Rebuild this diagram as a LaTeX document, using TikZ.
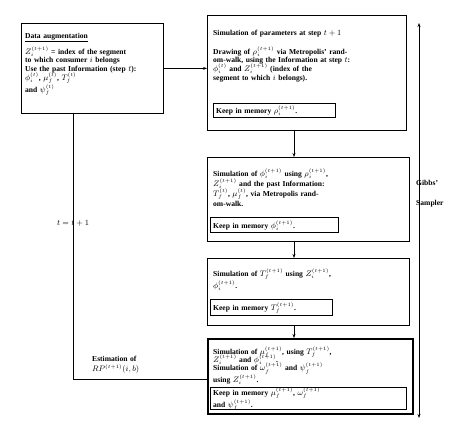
\documentclass[tikz,border=0pt]{standalone}
\usepackage{fontspec}
\setmainfont{Liberation Serif}
\usetikzlibrary{arrows.meta}
\newcommand{\topstrut}{\lineskiplimit=-100pt\relax\lineskip=0pt\relax\rule{0pt}{9bp}}
\newcommand{\boxfont}[1]{\fontsize{7.6}{#1}\selectfont\bfseries}
\begin{document}
\begin{tikzpicture}[x=1bp,y=-1bp,
  txt/.style={font=\boxfont{8.8},
              inner sep=0, anchor=north west, align=left, text width=220bp},
  box/.style={draw, line width=0.8bp, inner sep=0, anchor=north west},
  arr/.style={-{Stealth[length=4bp,width=3bp]}, line width=0.6bp}]
\useasboundingbox (0,0) rectangle (474,439);

% main boxes
\node[box, minimum width=142bp, minimum height=90bp] (da) at (21,23) {};
\node[box, minimum width=199bp, minimum height=115bp] (b2) at (207,15) {};
\node[box, minimum width=202bp, minimum height=84bp] (b3) at (207,157) {};
\node[box, minimum width=202bp, minimum height=67bp] (b4) at (207,258) {};
\node[box, line width=1.6bp, minimum width=205bp, minimum height=75bp] (b5) at (207,338) {};

% keep boxes
\node[box, minimum width=122bp, minimum height=14bp] (k2) at (213,103) {};
\node[box, minimum width=128bp, minimum height=15bp] (k3) at (210,217) {};
\node[box, minimum width=122bp, minimum height=16bp] (k4) at (210,299) {};
\node[box, line width=1.2bp, minimum width=196bp, minimum height=22bp] (k5) at (210,387) {};

% texts: data augmentation
\node[txt] (dat) at (25,29) {\topstrut\underline{Data augmentation}};
\node[txt] (dab) at (25,45) {\topstrut$Z_i^{(t+1)}$ = index of the segment\\
to which consumer $i$ belongs\\
Use the past Information (step $t$):\\
$\phi_i^{(t)}$, $\mu_f^{(t)}$, $T_f^{(t)}$\\
and $\psi_f^{(t)}$};

% box 2
\node[txt] (b2t) at (213,26) {\topstrut Simulation of parameters at step $t+1$};
\node[txt] (b2b) at (213,45) {\topstrut Drawing of $\rho_i^{(t+1)}$ via Metropolis' rand-\\
om-walk, using the Information at step $t$:\\
$\phi_i^{(t)}$ and $Z_i^{(t+1)}$ (index of the\\
segment to which $i$ belongs).};
\node[txt] (k2t) at (216,104) {\topstrut Keep in memory $\rho_i^{(t+1)}$.};

% box 3
\node[txt, font=\boxfont{10}] (b3b) at (213,167) {\topstrut Simulation of $\phi_i^{(t+1)}$ using $\rho_i^{(t+1)}$,\\
$Z_i^{(t+1)}$ and the past Information:\\
$T_f^{(t)}$, $\mu_f^{(t)}$, via Metropolis rand-\\
om-walk.};
\node[txt] (k3t) at (213,219) {\topstrut Keep in memory $\phi_i^{(t+1)}$.};

% box 4
\node[txt, font=\boxfont{10}] (b4b) at (213,267) {\topstrut Simulation of $T_f^{(t+1)}$ using $Z_i^{(t+1)}$,\\
$\phi_i^{(t+1)}$.};
\node[txt] (k4t) at (213,301) {\topstrut Keep in memory $T_f^{(t+1)}$.};

% box 5
\node[txt, font=\boxfont{8.3}] (b5b) at (213,345) {\topstrut Simulation of $\mu_f^{(t+1)}$, using $T_f^{(t+1)}$,\\
$Z_i^{(t+1)}$ and $\phi_i^{(t+1)}$.\\
Simulation of $\omega_f^{(t+1)}$ and $\psi_f^{(t+1)}$\\
using $Z_i^{(t+1)}$.};
\node[txt] (k5t) at (213,386) {\topstrut Keep in memory $\mu_f^{(t+1)}$, $\omega_f^{(t+1)}$\\
and $\psi_f^{(t+1)}$.};

% connectors
\coordinate (axis) at (294,0);
\draw[arr] (da.east) -- (da.east -| b2.west);
\draw[arr] (axis |- b2.south) -- (axis |- b3.north);
\draw[arr] (axis |- b3.south) -- (axis |- b4.north);
\draw[arr] (axis |- b4.south) -- (axis |- b5.north);

% loop back
\coordinate (loop) at (73,379);
\draw[line width=0.8bp] (b5.west |- loop) -- (loop) -- (loop |- da.south);
\node[font=\fontsize{7.6}{9}\selectfont, inner sep=0] (tt) at (73,223) {$t=t+1$};
\node[txt] (est) at (92,352) {\topstrut Estimation of\\[1.5bp]
$RP^{(t+1)}(i,b)$};

% Gibbs sampler arrow
\coordinate (gtop) at (419,23);
\coordinate (gbot) at (419,418);
\draw[{Stealth[length=4bp,width=3bp]}-{Stealth[length=4bp,width=3bp]}, line width=0.8bp] (gtop) -- (gbot);
\node[txt] (gib) at (416,176) {\topstrut Gibbs'};
\node[txt] (sam) at (416,196) {\topstrut Sampler};
\end{tikzpicture}
\end{document}
